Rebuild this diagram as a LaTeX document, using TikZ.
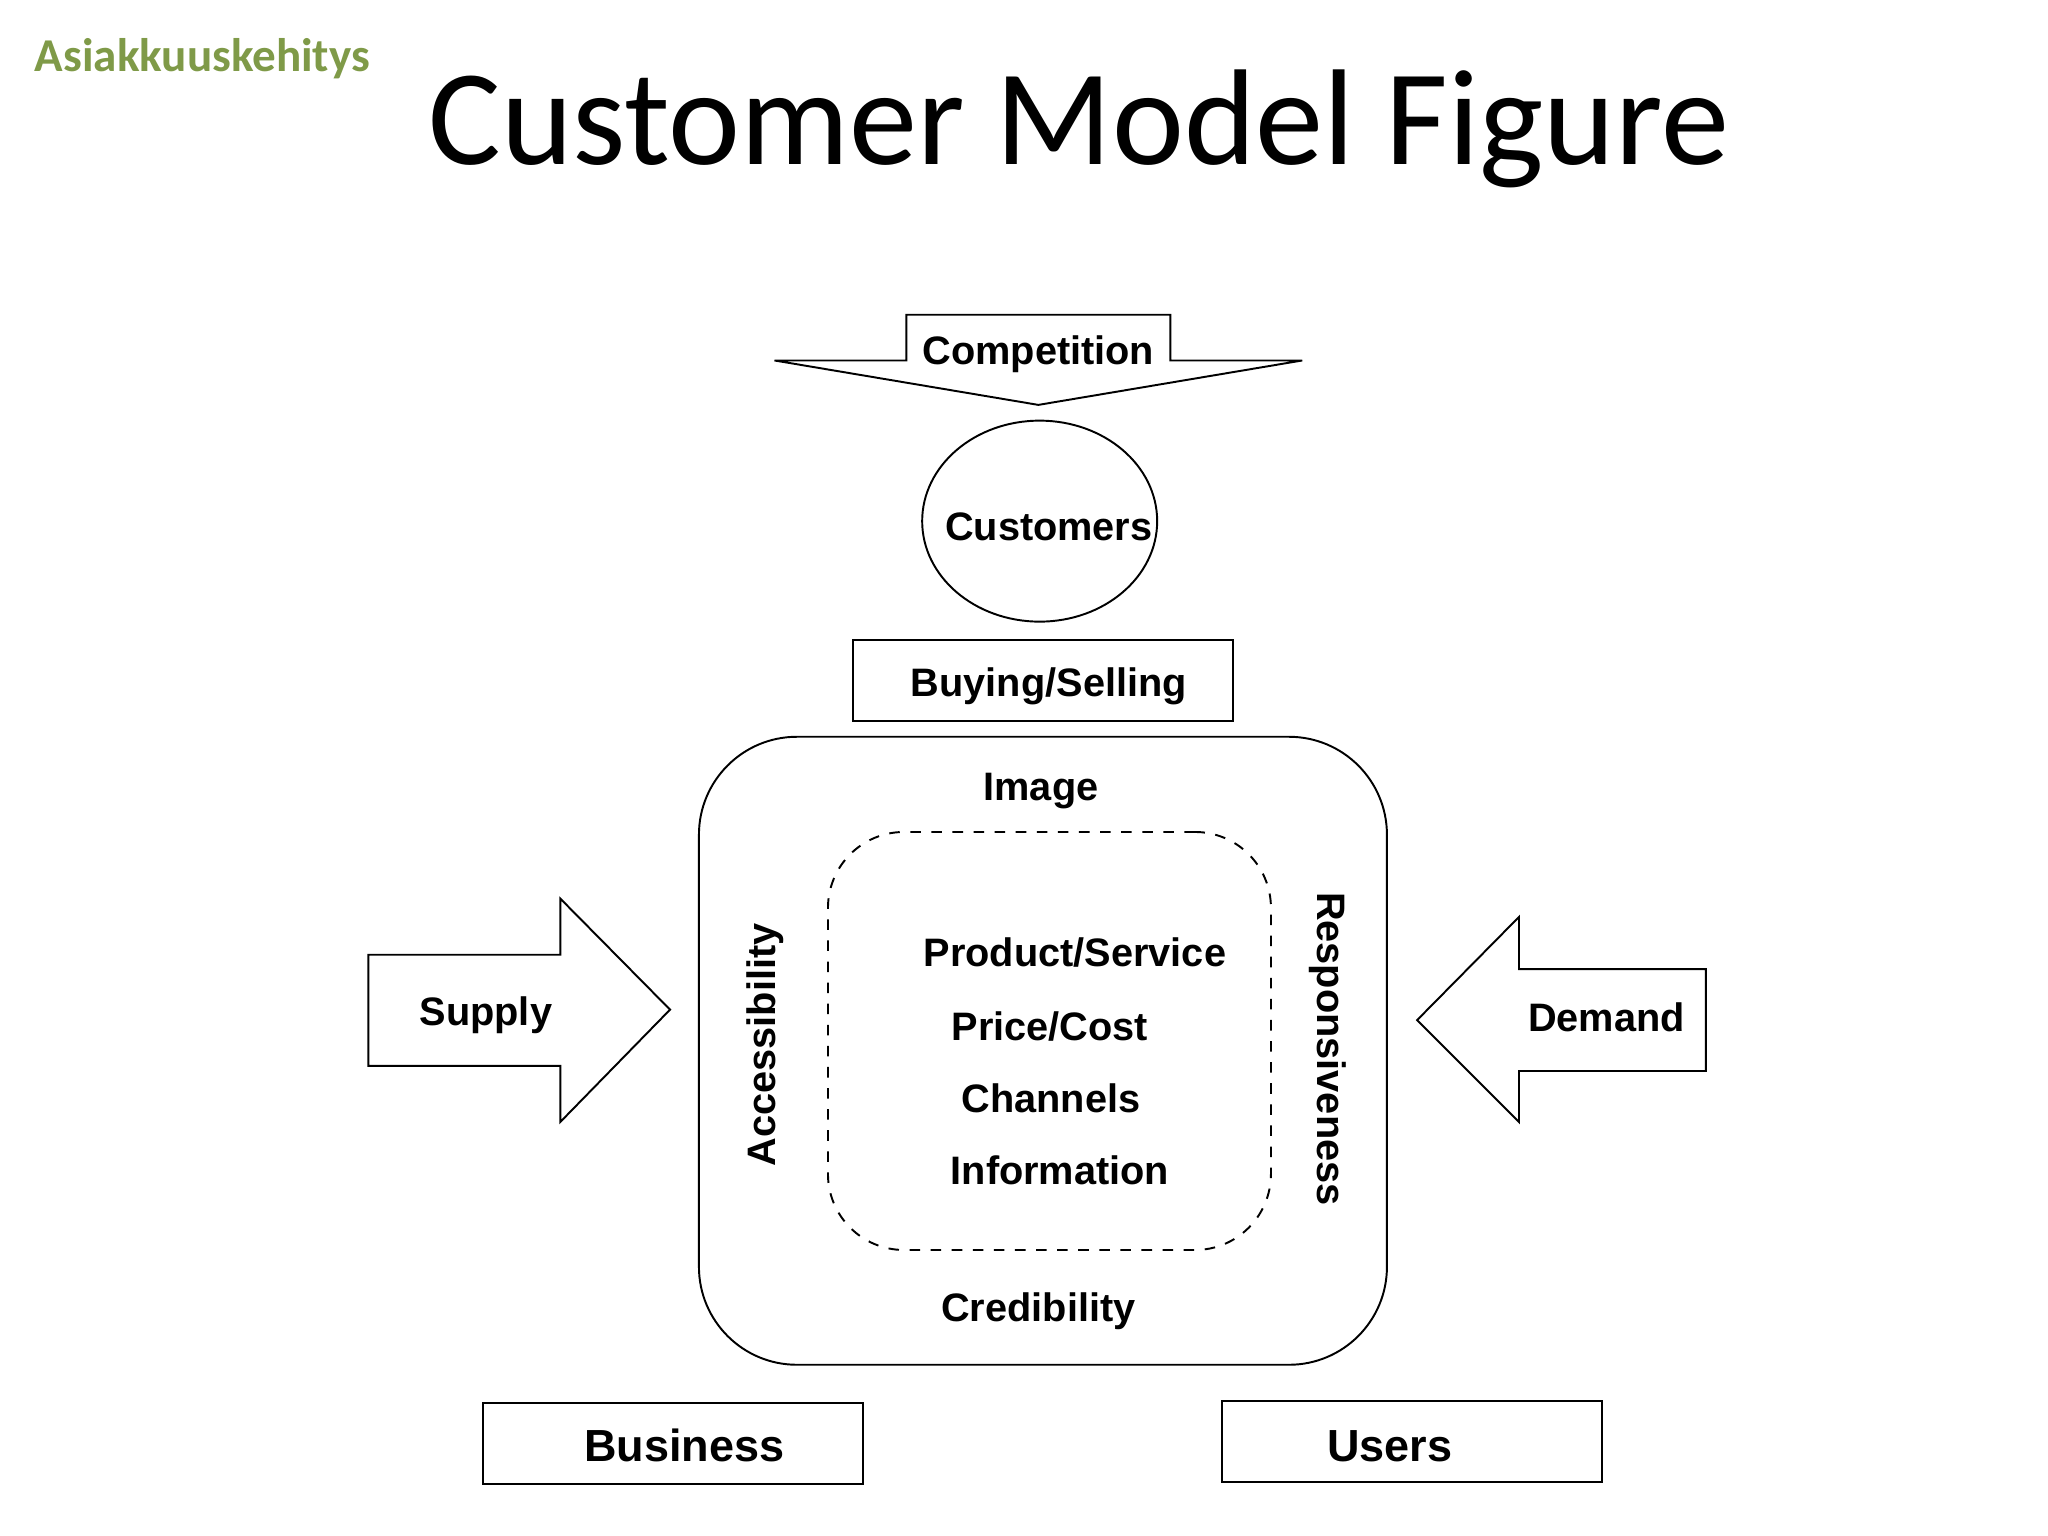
\documentclass[tikz,border=0pt]{standalone}
\usepackage{fontspec}
\setmainfont{Liberation Sans}
\newfontfamily\titlefont{Carlito}
\usetikzlibrary{shapes,positioning}
\definecolor{logogreen}{HTML}{7F9A48}

\begin{document}
\begin{tikzpicture}[x=0.01306cm,y=-0.01306cm,node distance=0.718cm,line width=0.55pt]

  \tikzstyle{word}=[inner sep=0pt,font=\fontsize{11.3}{13}\selectfont\bfseries,
                    text height=.72em,text depth=.2em]
  \tikzstyle{big word}=[word,font=\fontsize{12.8}{15}\selectfont\bfseries]
  \tikzstyle{box}=[rectangle,draw=black,inner sep=0pt,minimum width=3.8cm,minimum height=0.81cm]
  \tikzstyle{outline}=[draw=black,join=miter]

  \useasboundingbox (0,0) rectangle (1568,1176);

  % Heading
  \node [inner sep=0pt,anchor=base,font=\titlefont\fontsize{13.4}{16}\selectfont\bfseries,
         text=logogreen] (logo) at (155,55) {Asiakkuuskehitys};
  \node [inner sep=0pt,anchor=base,font=\titlefont\fontsize{38.8}{46}\selectfont]
        (title) at (826,126) {Customer Model Figure};

  % Top of the figure
  \draw [outline] (694,241) -- (896,241) -- (896,276) -- (997,276) -- (795,310)
    -- (593,276) -- (694,276) -- cycle;
  \node [word] (competition) at (795,272) {Competition};

  \node [ellipse,draw=black,inner sep=0pt,minimum width=2.35cm,minimum height=2.01cm]
        (customers) at (796,399) {};
  \node [word] (customerstext) at (803,407) {Customers};

  \node [box] (buying) at (798.5,521) {};
  \node [word] (buyingtext) at (803,526) {Buying/Selling};

  % Middle boxes
  \node [rectangle,draw=black,rounded corners=0.98cm,inner sep=0pt,
         minimum width=6.88cm,minimum height=6.28cm] (outer) at (798.5,804.5) {};
  \node [rectangle,draw=black,dashed,rounded corners=0.76cm,inner sep=0pt,
         minimum width=4.43cm,minimum height=4.18cm] (inner) at (803.5,797) {};

  \node [word] (image) at (797,606) {Image};
  \node [word] (product) at (823,733) {Product/Service};
  \node [word] (price) [below of=product,xshift=-2.5mm,yshift=-0.26mm] {Price/Cost};
  \node [word] (channels) [below of=price,xshift=.1mm] {Channels};
  \node [word] (information) [below of=channels,xshift=.9mm] {Information};
  \node [word] (credibility) at (795,1005) {Credibility};
  \node [word,rotate=90] (accessibility) at (587,800) {Accessibility};
  \node [word,rotate=-90] (responsiveness) at (1016,803) {Responsiveness};

  % Side arrows
  \draw [outline] (282,731) -- (429,731) -- (429,688) -- (513,773) -- (429,859)
    -- (429,816) -- (282,816) -- cycle;
  \node [word] (supply) at (372,778) {Supply};

  \draw [outline] (1306,742) -- (1163,742) -- (1163,702) -- (1085,781) -- (1163,859)
    -- (1163,820) -- (1306,820) -- cycle;
  \node [word] (demand) at (1230,783) {Demand};

  % Bottom boxes
  \node [box] (business) at (515,1105) {};
  \node [big word] (businesstext) at (524,1112) {Business};
  \node [box] (users) at (1081,1104) {};
  \node [big word] (userstext) at (1064,1112) {Users};
\end{tikzpicture}
\end{document}
